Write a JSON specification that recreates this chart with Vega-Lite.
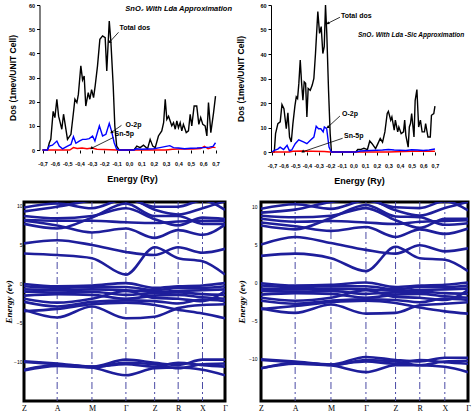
{
"$schema": "https://vega.github.io/schema/vega-lite/v6.json",
"padding": {"left": 2, "top": 2, "right": 0, "bottom": 0},
"background": "white",
"config": {"font": "Liberation Sans", "axis": {"labelColor": "black", "titleColor": "black", "domainColor": "black", "tickColor": "black", "grid": false}},
"datasets": {
"dosL": [
{"s":"T","e":-0.7,"v":0},{"s":"T","e":-0.66,"v":0},{"s":"T","e":-0.645,"v":3},{"s":"T","e":-0.633,"v":4.4},{"s":"T","e":-0.614,"v":16},{"s":"T","e":-0.6,"v":13.4},{"s":"T","e":-0.584,"v":21},{"s":"T","e":-0.57,"v":14},{"s":"T","e":-0.557,"v":11.3},{"s":"T","e":-0.544,"v":8.6},{"s":"T","e":-0.53,"v":14.8},{"s":"T","e":-0.517,"v":10.6},{"s":"T","e":-0.498,"v":4.4},{"s":"T","e":-0.47,"v":6.5},{"s":"T","e":-0.45,"v":15.4},{"s":"T","e":-0.438,"v":21},{"s":"T","e":-0.422,"v":19.6},{"s":"T","e":-0.41,"v":23},{"s":"T","e":-0.39,"v":34.8},{"s":"T","e":-0.376,"v":29},{"s":"T","e":-0.363,"v":30.6},{"s":"T","e":-0.35,"v":18.2},{"s":"T","e":-0.33,"v":23.7},{"s":"T","e":-0.317,"v":21},{"s":"T","e":-0.303,"v":25},{"s":"T","e":-0.287,"v":21.7},{"s":"T","e":-0.274,"v":26.5},{"s":"T","e":-0.255,"v":34.8},{"s":"T","e":-0.236,"v":45.8},{"s":"T","e":-0.214,"v":47.2},{"s":"T","e":-0.193,"v":46.5},{"s":"T","e":-0.18,"v":32.7},{"s":"T","e":-0.16,"v":53.4},{"s":"T","e":-0.147,"v":45},{"s":"T","e":-0.128,"v":26.5},{"s":"T","e":-0.115,"v":10},{"s":"T","e":-0.1,"v":1.6},{"s":"T","e":-0.08,"v":0},{"s":"T","e":0.04,"v":0},{"s":"T","e":0.063,"v":1.6},{"s":"T","e":0.09,"v":1},{"s":"T","e":0.117,"v":2},{"s":"T","e":0.15,"v":0.5},{"s":"T","e":0.171,"v":4.4},{"s":"T","e":0.192,"v":1.6},{"s":"T","e":0.212,"v":1},{"s":"T","e":0.238,"v":5.8},{"s":"T","e":0.265,"v":7.9},{"s":"T","e":0.28,"v":11.3},{"s":"T","e":0.293,"v":21},{"s":"T","e":0.306,"v":12.7},{"s":"T","e":0.32,"v":14},{"s":"T","e":0.333,"v":12},{"s":"T","e":0.346,"v":10},{"s":"T","e":0.36,"v":11.3},{"s":"T","e":0.374,"v":8.6},{"s":"T","e":0.387,"v":12},{"s":"T","e":0.4,"v":9.2},{"s":"T","e":0.414,"v":11.3},{"s":"T","e":0.427,"v":7.9},{"s":"T","e":0.44,"v":10.6},{"s":"T","e":0.463,"v":7.2},{"s":"T","e":0.481,"v":7.9},{"s":"T","e":0.495,"v":14.8},{"s":"T","e":0.508,"v":10},{"s":"T","e":0.527,"v":18.2},{"s":"T","e":0.548,"v":18.2},{"s":"T","e":0.565,"v":10.6},{"s":"T","e":0.58,"v":13.4},{"s":"T","e":0.597,"v":10.6},{"s":"T","e":0.616,"v":10},{"s":"T","e":0.63,"v":5.8},{"s":"T","e":0.643,"v":19.6},{"s":"T","e":0.662,"v":7.2},{"s":"T","e":0.684,"v":15.4},{"s":"T","e":0.7,"v":22.3},
{"s":"O","e":-0.7,"v":0},{"s":"O","e":-0.66,"v":0},{"s":"O","e":-0.646,"v":1.6},{"s":"O","e":-0.62,"v":2},{"s":"O","e":-0.584,"v":3.7},{"s":"O","e":-0.565,"v":1.6},{"s":"O","e":-0.538,"v":0.5},{"s":"O","e":-0.498,"v":1.6},{"s":"O","e":-0.47,"v":2.3},{"s":"O","e":-0.45,"v":5.5},{"s":"O","e":-0.43,"v":2.8},{"s":"O","e":-0.403,"v":3.7},{"s":"O","e":-0.376,"v":4.4},{"s":"O","e":-0.35,"v":4.4},{"s":"O","e":-0.322,"v":4.7},{"s":"O","e":-0.295,"v":5.8},{"s":"O","e":-0.276,"v":3.7},{"s":"O","e":-0.24,"v":10},{"s":"O","e":-0.214,"v":5.8},{"s":"O","e":-0.187,"v":6.5},{"s":"O","e":-0.16,"v":11},{"s":"O","e":-0.142,"v":7.9},{"s":"O","e":-0.12,"v":3},{"s":"O","e":-0.1,"v":0.3},{"s":"O","e":-0.08,"v":0},{"s":"O","e":0.04,"v":0},{"s":"O","e":0.06,"v":0.5},{"s":"O","e":0.1,"v":0.3},{"s":"O","e":0.2,"v":0.5},{"s":"O","e":0.25,"v":1},{"s":"O","e":0.3,"v":1.5},{"s":"O","e":0.33,"v":1.8},{"s":"O","e":0.36,"v":1},{"s":"O","e":0.4,"v":0.8},{"s":"O","e":0.45,"v":0.5},{"s":"O","e":0.5,"v":0.7},{"s":"O","e":0.55,"v":0.8},{"s":"O","e":0.6,"v":1},{"s":"O","e":0.65,"v":1.2},{"s":"O","e":0.68,"v":1.5},{"s":"O","e":0.7,"v":3},
{"s":"S","e":-0.7,"v":0},{"s":"S","e":-0.48,"v":0},{"s":"S","e":-0.45,"v":1},{"s":"S","e":-0.42,"v":0.6},{"s":"S","e":-0.38,"v":0.8},{"s":"S","e":-0.34,"v":0.5},{"s":"S","e":-0.3,"v":0.8},{"s":"S","e":-0.26,"v":0.3},{"s":"S","e":-0.2,"v":0.2},{"s":"S","e":-0.1,"v":0},{"s":"S","e":0.3,"v":0},{"s":"S","e":0.35,"v":0.3},{"s":"S","e":0.45,"v":0.5},{"s":"S","e":0.52,"v":0.4},{"s":"S","e":0.58,"v":0.6},{"s":"S","e":0.61,"v":1.5},{"s":"S","e":0.64,"v":0.5},{"s":"S","e":0.68,"v":1.2},{"s":"S","e":0.7,"v":1}
],
"dosR": [
{"s":"T","e":-0.7,"v":0},{"s":"T","e":-0.68,"v":0},{"s":"T","e":-0.669,"v":7.5},{"s":"T","e":-0.649,"v":11.6},{"s":"T","e":-0.629,"v":12.3},{"s":"T","e":-0.614,"v":19.4},{"s":"T","e":-0.597,"v":17.7},{"s":"T","e":-0.577,"v":9.5},{"s":"T","e":-0.563,"v":16},{"s":"T","e":-0.549,"v":6.1},{"s":"T","e":-0.534,"v":4.1},{"s":"T","e":-0.52,"v":11.6},{"s":"T","e":-0.503,"v":18.7},{"s":"T","e":-0.491,"v":22.5},{"s":"T","e":-0.48,"v":21.8},{"s":"T","e":-0.469,"v":28},{"s":"T","e":-0.457,"v":37.5},{"s":"T","e":-0.446,"v":28.6},{"s":"T","e":-0.434,"v":21.1},{"s":"T","e":-0.423,"v":28.6},{"s":"T","e":-0.411,"v":28},{"s":"T","e":-0.4,"v":14.3},{"s":"T","e":-0.389,"v":25.9},{"s":"T","e":-0.371,"v":25.2},{"s":"T","e":-0.354,"v":27.3},{"s":"T","e":-0.34,"v":30},{"s":"T","e":-0.326,"v":40.2},{"s":"T","e":-0.306,"v":57.3},{"s":"T","e":-0.291,"v":48.4},{"s":"T","e":-0.277,"v":51.2},{"s":"T","e":-0.263,"v":40.2},{"s":"T","e":-0.251,"v":43},{"s":"T","e":-0.24,"v":60},{"s":"T","e":-0.229,"v":48.4},{"s":"T","e":-0.214,"v":25.2},{"s":"T","e":-0.2,"v":7.5},{"s":"T","e":-0.189,"v":0},{"s":"T","e":0.02,"v":0},{"s":"T","e":0.037,"v":1},{"s":"T","e":0.06,"v":1},{"s":"T","e":0.09,"v":1.5},{"s":"T","e":0.12,"v":1},{"s":"T","e":0.14,"v":4.5},{"s":"T","e":0.16,"v":3.4},{"s":"T","e":0.19,"v":1.4},{"s":"T","e":0.21,"v":3.4},{"s":"T","e":0.23,"v":5.5},{"s":"T","e":0.25,"v":4},{"s":"T","e":0.27,"v":8.2},{"s":"T","e":0.29,"v":15.7},{"s":"T","e":0.3,"v":16.6},{"s":"T","e":0.32,"v":13},{"s":"T","e":0.33,"v":14.3},{"s":"T","e":0.35,"v":8.9},{"s":"T","e":0.36,"v":13},{"s":"T","e":0.38,"v":8.2},{"s":"T","e":0.39,"v":10.2},{"s":"T","e":0.41,"v":7.5},{"s":"T","e":0.43,"v":8.2},{"s":"T","e":0.44,"v":13},{"s":"T","e":0.45,"v":6.8},{"s":"T","e":0.47,"v":2},{"s":"T","e":0.48,"v":10.2},{"s":"T","e":0.49,"v":11.6},{"s":"T","e":0.5,"v":15.7},{"s":"T","e":0.52,"v":6.1},{"s":"T","e":0.53,"v":21},{"s":"T","e":0.545,"v":25.5},{"s":"T","e":0.56,"v":10.2},{"s":"T","e":0.575,"v":13},{"s":"T","e":0.59,"v":8.2},{"s":"T","e":0.61,"v":8.2},{"s":"T","e":0.62,"v":11.6},{"s":"T","e":0.64,"v":6.1},{"s":"T","e":0.66,"v":6.1},{"s":"T","e":0.67,"v":15},{"s":"T","e":0.69,"v":15.7},{"s":"T","e":0.7,"v":18.7},
{"s":"O","e":-0.7,"v":0},{"s":"O","e":-0.68,"v":0.7},{"s":"O","e":-0.65,"v":1.2},{"s":"O","e":-0.63,"v":2},{"s":"O","e":-0.6,"v":1},{"s":"O","e":-0.57,"v":2.7},{"s":"O","e":-0.55,"v":0.5},{"s":"O","e":-0.53,"v":0.8},{"s":"O","e":-0.5,"v":3.4},{"s":"O","e":-0.47,"v":5},{"s":"O","e":-0.43,"v":4.1},{"s":"O","e":-0.4,"v":3.4},{"s":"O","e":-0.37,"v":4.8},{"s":"O","e":-0.34,"v":6.1},{"s":"O","e":-0.32,"v":10.5},{"s":"O","e":-0.3,"v":9.5},{"s":"O","e":-0.28,"v":9.5},{"s":"O","e":-0.26,"v":8.2},{"s":"O","e":-0.25,"v":10.2},{"s":"O","e":-0.23,"v":9.5},{"s":"O","e":-0.21,"v":2},{"s":"O","e":-0.19,"v":0},{"s":"O","e":0.02,"v":0},{"s":"O","e":0.06,"v":0.4},{"s":"O","e":0.15,"v":0.6},{"s":"O","e":0.25,"v":0.8},{"s":"O","e":0.3,"v":1},{"s":"O","e":0.35,"v":0.8},{"s":"O","e":0.4,"v":0.7},{"s":"O","e":0.45,"v":0.6},{"s":"O","e":0.5,"v":0.9},{"s":"O","e":0.55,"v":0.8},{"s":"O","e":0.6,"v":0.6},{"s":"O","e":0.65,"v":0.8},{"s":"O","e":0.7,"v":1.2},
{"s":"S","e":-0.7,"v":0},{"s":"S","e":-0.55,"v":0},{"s":"S","e":-0.52,"v":0.3},{"s":"S","e":-0.45,"v":0.4},{"s":"S","e":-0.35,"v":0.3},{"s":"S","e":-0.25,"v":0.2},{"s":"S","e":-0.2,"v":0},{"s":"S","e":0.3,"v":0},{"s":"S","e":0.5,"v":0.3},{"s":"S","e":0.7,"v":0.3}
],
"arrL": [{"x":-0.085,"y":48.7,"x2":-0.158,"y2":44.6},{"x":-0.061,"y":10.2,"x2":-0.142,"y2":7.3},{"x":-0.126,"y":5.2,"x2":-0.304,"y2":0.7}],
"labL": [{"t":"Total dos","x":-0.077,"y":50.4},{"t":"O-2p","x":-0.028,"y":10.2},{"t":"Sn-5p","x":-0.117,"y":6.5}],
"ttlL": [{"t":"SnO₂ With Lda Approximation","x":-0.03,"y":58.5}],
"arrR": [{"x":-0.116,"y":55,"x2":-0.221,"y2":52.5},{"x":-0.116,"y":14.7,"x2":-0.221,"y2":10.1},{"x":-0.093,"y":5.6,"x2":-0.436,"y2":0.1}],
"labR": [{"t":"Total dos","x":-0.107,"y":55.5},{"t":"O-2p","x":-0.098,"y":15.5},{"t":"Sn-5p","x":-0.081,"y":6.5}],
"ttlR": [{"t":"SnO₂ With Lda -Sic Approximation","x":0.039,"y":47.8}],
"sym": [{"k":0.165},{"k":0.338},{"k":0.507},{"k":0.65},{"k":0.767},{"k":0.888}],
"bandL": [
{"b":"L1","k":0,"E":-10.0},{"b":"L1","k":0.165,"E":-10.3},{"b":"L1","k":0.338,"E":-10.7},{"b":"L1","k":0.507,"E":-9.8},{"b":"L1","k":0.65,"E":-10.2},{"b":"L1","k":0.767,"E":-10.5},{"b":"L1","k":0.888,"E":-9.8},{"b":"L1","k":1,"E":-9.8},
{"b":"L2","k":0,"E":-10.1},{"b":"L2","k":0.165,"E":-10.4},{"b":"L2","k":0.338,"E":-10.7},{"b":"L2","k":0.507,"E":-10.4},{"b":"L2","k":0.65,"E":-10.7},{"b":"L2","k":0.767,"E":-10.2},{"b":"L2","k":0.888,"E":-10.5},{"b":"L2","k":1,"E":-10.7},
{"b":"L3","k":0,"E":-11.1},{"b":"L3","k":0.165,"E":-10.5},{"b":"L3","k":0.338,"E":-10.8},{"b":"L3","k":0.507,"E":-11.8},{"b":"L3","k":0.65,"E":-10.9},{"b":"L3","k":0.767,"E":-10.8},{"b":"L3","k":0.888,"E":-11.1},{"b":"L3","k":1,"E":-11.8},
{"b":"L4","k":0,"E":-11.2},{"b":"L4","k":0.165,"E":-10.6},{"b":"L4","k":0.338,"E":-10.8},{"b":"L4","k":0.507,"E":-10.2},{"b":"L4","k":0.65,"E":-10.4},{"b":"L4","k":0.767,"E":-10.9},{"b":"L4","k":0.888,"E":-10.4},{"b":"L4","k":1,"E":-10.3},
{"b":"V1","k":0,"E":-0.1},{"b":"V1","k":0.165,"E":-0.4},{"b":"V1","k":0.338,"E":-0.3},{"b":"V1","k":0.507,"E":0.0},{"b":"V1","k":0.65,"E":-0.6},{"b":"V1","k":0.767,"E":-0.4},{"b":"V1","k":0.888,"E":-0.3},{"b":"V1","k":1,"E":0.0},
{"b":"V2","k":0,"E":-0.4},{"b":"V2","k":0.165,"E":-0.6},{"b":"V2","k":0.338,"E":-0.5},{"b":"V2","k":0.507,"E":-0.5},{"b":"V2","k":0.65,"E":-0.9},{"b":"V2","k":0.767,"E":-0.6},{"b":"V2","k":0.888,"E":-0.6},{"b":"V2","k":1,"E":-0.4},
{"b":"V3","k":0,"E":-0.8},{"b":"V3","k":0.165,"E":-0.9},{"b":"V3","k":0.338,"E":-0.8},{"b":"V3","k":0.507,"E":-0.9},{"b":"V3","k":0.65,"E":-1.1},{"b":"V3","k":0.767,"E":-1.0},{"b":"V3","k":0.888,"E":-0.9},{"b":"V3","k":1,"E":-0.8},
{"b":"V4","k":0,"E":-1.1},{"b":"V4","k":0.165,"E":-1.2},{"b":"V4","k":0.338,"E":-1.1},{"b":"V4","k":0.507,"E":-1.5},{"b":"V4","k":0.65,"E":-1.3},{"b":"V4","k":0.767,"E":-1.2},{"b":"V4","k":0.888,"E":-1.4},{"b":"V4","k":1,"E":-1.5},
{"b":"V5","k":0,"E":-1.6},{"b":"V5","k":0.165,"E":-1.4},{"b":"V5","k":0.338,"E":-1.5},{"b":"V5","k":0.507,"E":-2.0},{"b":"V5","k":0.65,"E":-1.6},{"b":"V5","k":0.767,"E":-1.5},{"b":"V5","k":0.888,"E":-1.8},{"b":"V5","k":1,"E":-2.0},
{"b":"V6","k":0,"E":-2.0},{"b":"V6","k":0.165,"E":-2.5},{"b":"V6","k":0.338,"E":-2.0},{"b":"V6","k":0.507,"E":-1.0},{"b":"V6","k":0.65,"E":-1.9},{"b":"V6","k":0.767,"E":-2.0},{"b":"V6","k":0.888,"E":-2.3},{"b":"V6","k":1,"E":-1.0},
{"b":"V7","k":0,"E":-2.4},{"b":"V7","k":0.165,"E":-3.0},{"b":"V7","k":0.338,"E":-2.4},{"b":"V7","k":0.507,"E":-2.2},{"b":"V7","k":0.65,"E":-2.3},{"b":"V7","k":0.767,"E":-2.6},{"b":"V7","k":0.888,"E":-2.1},{"b":"V7","k":1,"E":-2.3},
{"b":"V8","k":0,"E":-3.4},{"b":"V8","k":0.165,"E":-4.4},{"b":"V8","k":0.338,"E":-3.0},{"b":"V8","k":0.507,"E":-4.5},{"b":"V8","k":0.65,"E":-4.3},{"b":"V8","k":0.767,"E":-3.2},{"b":"V8","k":0.888,"E":-2.8},{"b":"V8","k":1,"E":-2.7},
{"b":"V9","k":0,"E":-3.6},{"b":"V9","k":0.165,"E":-3.3},{"b":"V9","k":0.338,"E":-2.7},{"b":"V9","k":0.507,"E":-2.5},{"b":"V9","k":0.65,"E":-2.8},{"b":"V9","k":0.767,"E":-3.4},{"b":"V9","k":0.888,"E":-3.9},{"b":"V9","k":1,"E":-4.5},
{"b":"C1","k":0,"E":3.8},{"b":"C1","k":0.165,"E":3.6},{"b":"C1","k":0.338,"E":3.2},{"b":"C1","k":0.507,"E":1.1},{"b":"C1","k":0.65,"E":4.6},{"b":"C1","k":0.767,"E":3.2},{"b":"C1","k":0.888,"E":2.8},{"b":"C1","k":1,"E":1.1},
{"b":"C2","k":0,"E":5.1},{"b":"C2","k":0.165,"E":5.5},{"b":"C2","k":0.338,"E":4.9},{"b":"C2","k":0.507,"E":4.0},{"b":"C2","k":0.65,"E":3.6},{"b":"C2","k":0.767,"E":4.6},{"b":"C2","k":0.888,"E":3.9},{"b":"C2","k":1,"E":4.4},
{"b":"C3","k":0,"E":8.0},{"b":"C3","k":0.165,"E":7.4},{"b":"C3","k":0.338,"E":6.5},{"b":"C3","k":0.507,"E":7.0},{"b":"C3","k":0.65,"E":5.8},{"b":"C3","k":0.767,"E":6.8},{"b":"C3","k":0.888,"E":6.2},{"b":"C3","k":1,"E":7.5},
{"b":"C4","k":0,"E":8.1},{"b":"C4","k":0.165,"E":8.0},{"b":"C4","k":0.338,"E":8.0},{"b":"C4","k":0.507,"E":7.8},{"b":"C4","k":0.65,"E":7.7},{"b":"C4","k":0.767,"E":7.9},{"b":"C4","k":0.888,"E":8.0},{"b":"C4","k":1,"E":8.0},
{"b":"C5","k":0,"E":8.6},{"b":"C5","k":0.165,"E":8.3},{"b":"C5","k":0.338,"E":8.6},{"b":"C5","k":0.507,"E":9.6},{"b":"C5","k":0.65,"E":8.2},{"b":"C5","k":0.767,"E":7.4},{"b":"C5","k":0.888,"E":8.4},{"b":"C5","k":1,"E":8.2},
{"b":"C6","k":0,"E":9.2},{"b":"C6","k":0.165,"E":9.8},{"b":"C6","k":0.338,"E":10.6},{"b":"C6","k":0.507,"E":11.0},{"b":"C6","k":0.65,"E":9.4},{"b":"C6","k":0.767,"E":8.8},{"b":"C6","k":0.888,"E":9.6},{"b":"C6","k":1,"E":10.5},
{"b":"C7","k":0,"E":9.7},{"b":"C7","k":0.165,"E":10.2},{"b":"C7","k":0.338,"E":9.6},{"b":"C7","k":0.507,"E":10.8},{"b":"C7","k":0.65,"E":9.8},{"b":"C7","k":0.767,"E":9.8},{"b":"C7","k":0.888,"E":10.6},{"b":"C7","k":1,"E":9.4},
{"b":"C8","k":0,"E":7.6},{"b":"C8","k":0.165,"E":7.0},{"b":"C8","k":0.338,"E":8.4},{"b":"C8","k":0.507,"E":10.2},{"b":"C8","k":0.65,"E":8.6},{"b":"C8","k":0.767,"E":8.6},{"b":"C8","k":0.888,"E":7.6},{"b":"C8","k":1,"E":7.6}
],
"bandR": [
{"b":"L1","k":0,"E":-10.1},{"b":"L1","k":0.165,"E":-10.4},{"b":"L1","k":0.338,"E":-10.8},{"b":"L1","k":0.507,"E":-9.8},{"b":"L1","k":0.65,"E":-10.2},{"b":"L1","k":0.767,"E":-10.4},{"b":"L1","k":0.888,"E":-9.9},{"b":"L1","k":1,"E":-9.9},
{"b":"L2","k":0,"E":-10.2},{"b":"L2","k":0.165,"E":-10.5},{"b":"L2","k":0.338,"E":-10.8},{"b":"L2","k":0.507,"E":-10.4},{"b":"L2","k":0.65,"E":-10.7},{"b":"L2","k":0.767,"E":-10.2},{"b":"L2","k":0.888,"E":-10.5},{"b":"L2","k":1,"E":-10.7},
{"b":"L3","k":0,"E":-11.3},{"b":"L3","k":0.165,"E":-10.6},{"b":"L3","k":0.338,"E":-10.9},{"b":"L3","k":0.507,"E":-11.8},{"b":"L3","k":0.65,"E":-10.9},{"b":"L3","k":0.767,"E":-10.9},{"b":"L3","k":0.888,"E":-11.1},{"b":"L3","k":1,"E":-11.8},
{"b":"L4","k":0,"E":-11.3},{"b":"L4","k":0.165,"E":-10.7},{"b":"L4","k":0.338,"E":-10.9},{"b":"L4","k":0.507,"E":-10.2},{"b":"L4","k":0.65,"E":-10.4},{"b":"L4","k":0.767,"E":-10.9},{"b":"L4","k":0.888,"E":-10.4},{"b":"L4","k":1,"E":-10.3},
{"b":"V1","k":0,"E":-0.1},{"b":"V1","k":0.165,"E":-0.4},{"b":"V1","k":0.338,"E":-0.3},{"b":"V1","k":0.507,"E":0.0},{"b":"V1","k":0.65,"E":-0.6},{"b":"V1","k":0.767,"E":-0.4},{"b":"V1","k":0.888,"E":-0.3},{"b":"V1","k":1,"E":0.0},
{"b":"V2","k":0,"E":-0.4},{"b":"V2","k":0.165,"E":-0.6},{"b":"V2","k":0.338,"E":-0.5},{"b":"V2","k":0.507,"E":-0.5},{"b":"V2","k":0.65,"E":-0.9},{"b":"V2","k":0.767,"E":-0.6},{"b":"V2","k":0.888,"E":-0.6},{"b":"V2","k":1,"E":-0.4},
{"b":"V3","k":0,"E":-0.8},{"b":"V3","k":0.165,"E":-0.9},{"b":"V3","k":0.338,"E":-0.8},{"b":"V3","k":0.507,"E":-0.9},{"b":"V3","k":0.65,"E":-1.1},{"b":"V3","k":0.767,"E":-1.0},{"b":"V3","k":0.888,"E":-0.9},{"b":"V3","k":1,"E":-0.8},
{"b":"V4","k":0,"E":-1.1},{"b":"V4","k":0.165,"E":-1.2},{"b":"V4","k":0.338,"E":-1.1},{"b":"V4","k":0.507,"E":-1.5},{"b":"V4","k":0.65,"E":-1.3},{"b":"V4","k":0.767,"E":-1.2},{"b":"V4","k":0.888,"E":-1.4},{"b":"V4","k":1,"E":-1.5},
{"b":"V5","k":0,"E":-1.6},{"b":"V5","k":0.165,"E":-1.4},{"b":"V5","k":0.338,"E":-1.5},{"b":"V5","k":0.507,"E":-2.0},{"b":"V5","k":0.65,"E":-1.6},{"b":"V5","k":0.767,"E":-1.5},{"b":"V5","k":0.888,"E":-1.8},{"b":"V5","k":1,"E":-2.0},
{"b":"V6","k":0,"E":-2.0},{"b":"V6","k":0.165,"E":-2.4},{"b":"V6","k":0.338,"E":-2.0},{"b":"V6","k":0.507,"E":-1.0},{"b":"V6","k":0.65,"E":-1.9},{"b":"V6","k":0.767,"E":-2.0},{"b":"V6","k":0.888,"E":-2.3},{"b":"V6","k":1,"E":-1.0},
{"b":"V7","k":0,"E":-2.4},{"b":"V7","k":0.165,"E":-2.8},{"b":"V7","k":0.338,"E":-2.4},{"b":"V7","k":0.507,"E":-2.2},{"b":"V7","k":0.65,"E":-2.3},{"b":"V7","k":0.767,"E":-2.6},{"b":"V7","k":0.888,"E":-2.1},{"b":"V7","k":1,"E":-2.3},
{"b":"V8","k":0,"E":-3.4},{"b":"V8","k":0.165,"E":-4.0},{"b":"V8","k":0.338,"E":-2.9},{"b":"V8","k":0.507,"E":-4.1},{"b":"V8","k":0.65,"E":-4.0},{"b":"V8","k":0.767,"E":-3.0},{"b":"V8","k":0.888,"E":-2.8},{"b":"V8","k":1,"E":-2.6},
{"b":"V9","k":0,"E":-3.5},{"b":"V9","k":0.165,"E":-3.1},{"b":"V9","k":0.338,"E":-2.6},{"b":"V9","k":0.507,"E":-2.4},{"b":"V9","k":0.65,"E":-2.7},{"b":"V9","k":0.767,"E":-3.3},{"b":"V9","k":0.888,"E":-3.8},{"b":"V9","k":1,"E":-4.1},
{"b":"C1","k":0,"E":3.5},{"b":"C1","k":0.165,"E":3.8},{"b":"C1","k":0.338,"E":3.2},{"b":"C1","k":0.507,"E":1.5},{"b":"C1","k":0.65,"E":4.7},{"b":"C1","k":0.767,"E":3.2},{"b":"C1","k":0.888,"E":3.0},{"b":"C1","k":1,"E":1.5},
{"b":"C2","k":0,"E":5.0},{"b":"C2","k":0.165,"E":6.0},{"b":"C2","k":0.338,"E":5.2},{"b":"C2","k":0.507,"E":4.3},{"b":"C2","k":0.65,"E":3.8},{"b":"C2","k":0.767,"E":4.9},{"b":"C2","k":0.888,"E":4.1},{"b":"C2","k":1,"E":4.5},
{"b":"C3","k":0,"E":7.9},{"b":"C3","k":0.165,"E":7.4},{"b":"C3","k":0.338,"E":6.8},{"b":"C3","k":0.507,"E":7.3},{"b":"C3","k":0.65,"E":6.0},{"b":"C3","k":0.767,"E":7.0},{"b":"C3","k":0.888,"E":6.4},{"b":"C3","k":1,"E":7.1},
{"b":"C4","k":0,"E":8.4},{"b":"C4","k":0.165,"E":8.0},{"b":"C4","k":0.338,"E":8.1},{"b":"C4","k":0.507,"E":7.9},{"b":"C4","k":0.65,"E":7.7},{"b":"C4","k":0.767,"E":8.0},{"b":"C4","k":0.888,"E":8.1},{"b":"C4","k":1,"E":8.2},
{"b":"C5","k":0,"E":8.8},{"b":"C5","k":0.165,"E":8.6},{"b":"C5","k":0.338,"E":8.8},{"b":"C5","k":0.507,"E":9.8},{"b":"C5","k":0.65,"E":8.2},{"b":"C5","k":0.767,"E":7.2},{"b":"C5","k":0.888,"E":8.4},{"b":"C5","k":1,"E":8.4},
{"b":"C6","k":0,"E":9.2},{"b":"C6","k":0.165,"E":9.6},{"b":"C6","k":0.338,"E":10.6},{"b":"C6","k":0.507,"E":11.0},{"b":"C6","k":0.65,"E":9.5},{"b":"C6","k":0.767,"E":8.8},{"b":"C6","k":0.888,"E":9.8},{"b":"C6","k":1,"E":10.6},
{"b":"C7","k":0,"E":9.7},{"b":"C7","k":0.165,"E":10.3},{"b":"C7","k":0.338,"E":9.7},{"b":"C7","k":0.507,"E":10.8},{"b":"C7","k":0.65,"E":9.9},{"b":"C7","k":0.767,"E":9.8},{"b":"C7","k":0.888,"E":10.7},{"b":"C7","k":1,"E":9.5},
{"b":"C8","k":0,"E":7.5},{"b":"C8","k":0.165,"E":7.0},{"b":"C8","k":0.338,"E":8.5},{"b":"C8","k":0.507,"E":10.2},{"b":"C8","k":0.65,"E":8.7},{"b":"C8","k":0.767,"E":8.6},{"b":"C8","k":0.888,"E":7.6},{"b":"C8","k":1,"E":7.8}
]
},
"columns": 2,
"align": "none",
"spacing": {"row": 14, "column": 3},
"concat": [
{
"width": 193, "height": 145,
"view": {"stroke": null},
"encoding": {
"x": {"type": "quantitative", "scale": {"domain": [-0.85, 0.712], "nice": false, "zero": false},
 "axis": {"title": "Energy (Ry)", "titleX": 108, "values": [-0.7,-0.6,-0.5,-0.4,-0.3,-0.2,-0.1,0,0.1,0.2,0.3,0.4,0.5,0.6,0.7], "labelExpr": "replace(replace(format(datum.value,'.1f'),'.',','),'−','-')", "labelFontSize": 5.5, "labelFontWeight": "bold", "labelPadding": 8, "tickSize": 3, "domain": false, "labelOverlap": false, "labelFlush": false, "titleFontSize": 9, "titleFontWeight": "bold", "titlePadding": 8}},
"y": {"type": "quantitative", "scale": {"domain": [0, 60], "nice": false},
 "axis": {"title": "Dos (1mev/UNIT Cell)", "offset": -15.5, "values": [0,10,20,30,40,50,60], "labelFontSize": 5.5, "labelFontWeight": "bold", "labelPadding": 2, "tickSize": 3, "titleFontSize": 8.5, "titleFontWeight": "bold", "titlePadding": 11}}
},
"layer": [
{"mark": {"type": "rule", "color": "black", "strokeWidth": 1}, "encoding": {"x": {"datum": -0.724}, "x2": {"datum": 0.712}, "y": {"datum": 0}}},
{"data": {"name": "dosL"}, "transform": [{"filter": "datum.s == 'T'"}], "mark": {"type": "line", "color": "black", "strokeWidth": 1.4}, "encoding": {"x": {"field": "e"}, "y": {"field": "v"}}},
{"data": {"name": "dosL"}, "transform": [{"filter": "datum.s == 'S'"}], "mark": {"type": "line", "color": "red", "strokeWidth": 1.4}, "encoding": {"x": {"field": "e"}, "y": {"field": "v"}}},
{"data": {"name": "dosL"}, "transform": [{"filter": "datum.s == 'O'"}], "mark": {"type": "line", "color": "blue", "strokeWidth": 1.4}, "encoding": {"x": {"field": "e"}, "y": {"field": "v"}}},
{"data": {"name": "arrL"}, "mark": {"type": "rule", "color": "black", "strokeWidth": 0.8}, "encoding": {"x": {"field": "x"}, "y": {"field": "y"}, "x2": {"field": "x2"}, "y2": {"field": "y2"}}},
{"data": {"name": "arrL"}, "mark": {"type": "point", "shape": "triangle-up", "filled": true, "color": "black", "size": 12, "angle": 235, "opacity": 1}, "encoding": {"x": {"field": "x2"}, "y": {"field": "y2"}}},
{"data": {"name": "labL"}, "mark": {"type": "text", "align": "left", "baseline": "middle", "fontSize": 7, "fontWeight": "bold", "color": "black"}, "encoding": {"x": {"field": "x"}, "y": {"field": "y"}, "text": {"field": "t"}}},
{"data": {"name": "ttlL"}, "mark": {"type": "text", "align": "left", "baseline": "middle", "fontSize": 7.5, "fontWeight": "bold", "fontStyle": "italic", "color": "black"}, "encoding": {"x": {"field": "x"}, "y": {"field": "y"}, "text": {"field": "t"}}}
]
},
{
"width": 180, "height": 147,
"view": {"stroke": null},
"encoding": {
"x": {"type": "quantitative", "scale": {"domain": [-0.837, 0.709], "nice": false, "zero": false},
 "axis": {"title": "Energy (Ry)", "titleX": 103, "values": [-0.7,-0.6,-0.5,-0.4,-0.3,-0.2,-0.1,0,0.1,0.2,0.3,0.4,0.5,0.6,0.7], "labelExpr": "replace(replace(format(datum.value,'.1f'),'.',','),'−','-')", "labelFontSize": 5.5, "labelFontWeight": "bold", "labelPadding": 8, "tickSize": 3, "domain": false, "labelOverlap": false, "labelFlush": false, "titleFontSize": 9, "titleFontWeight": "bold", "titlePadding": 8}},
"y": {"type": "quantitative", "scale": {"domain": [0, 60], "nice": false},
 "axis": {"title": "Dos (1mev/UNIT Cell)", "offset": -15, "values": [0,10,20,30,40,50,60], "labelFontSize": 5.5, "labelFontWeight": "bold", "labelPadding": 2, "tickSize": 3, "titleFontSize": 8.5, "titleFontWeight": "bold", "titlePadding": 14}}
},
"layer": [
{"mark": {"type": "rule", "color": "black", "strokeWidth": 1}, "encoding": {"x": {"datum": -0.709}, "x2": {"datum": 0.709}, "y": {"datum": 0}}},
{"data": {"name": "dosR"}, "transform": [{"filter": "datum.s == 'T'"}], "mark": {"type": "line", "color": "black", "strokeWidth": 1.4}, "encoding": {"x": {"field": "e"}, "y": {"field": "v"}}},
{"data": {"name": "dosR"}, "transform": [{"filter": "datum.s == 'S'"}], "mark": {"type": "line", "color": "red", "strokeWidth": 1.4}, "encoding": {"x": {"field": "e"}, "y": {"field": "v"}}},
{"data": {"name": "dosR"}, "transform": [{"filter": "datum.s == 'O'"}], "mark": {"type": "line", "color": "blue", "strokeWidth": 1.4}, "encoding": {"x": {"field": "e"}, "y": {"field": "v"}}},
{"data": {"name": "arrR"}, "mark": {"type": "rule", "color": "black", "strokeWidth": 0.8}, "encoding": {"x": {"field": "x"}, "y": {"field": "y"}, "x2": {"field": "x2"}, "y2": {"field": "y2"}}},
{"data": {"name": "arrR"}, "mark": {"type": "point", "shape": "triangle-up", "filled": true, "color": "black", "size": 12, "angle": 240, "opacity": 1}, "encoding": {"x": {"field": "x2"}, "y": {"field": "y2"}}},
{"data": {"name": "labR"}, "mark": {"type": "text", "align": "left", "baseline": "middle", "fontSize": 7, "fontWeight": "bold", "color": "black"}, "encoding": {"x": {"field": "x"}, "y": {"field": "y"}, "text": {"field": "t"}}},
{"data": {"name": "ttlR"}, "mark": {"type": "text", "align": "left", "baseline": "middle", "fontSize": 6.5, "fontWeight": "bold", "fontStyle": "italic", "color": "black"}, "encoding": {"x": {"field": "x"}, "y": {"field": "y"}, "text": {"field": "t"}}}
]
},
{
"width": 201, "height": 199,
"view": {"stroke": "black", "strokeWidth": 3},
"encoding": {
"x": {"type": "quantitative", "scale": {"domain": [0, 1], "nice": false},
 "axis": {"title": null, "values": [0,0.165,0.338,0.507,0.65,0.767,0.888,1], "labelExpr": "datum.value < 0.05 ? 'Z' : datum.value < 0.2 ? 'A' : datum.value < 0.4 ? 'M' : datum.value < 0.55 ? 'Γ' : datum.value < 0.7 ? 'Z' : datum.value < 0.8 ? 'R' : datum.value < 0.95 ? 'X' : 'Γ'", "labelFont": "Liberation Serif", "labelFontSize": 8, "labelPadding": 3, "tickSize": 0, "domain": false, "labelFlush": false}},
"y": {"type": "quantitative", "scale": {"domain": [-15.1, 10.4], "nice": false, "zero": false},
 "axis": {"title": "Energy (ev)", "titleFont": "Liberation Serif", "titleFontStyle": "italic", "titleFontWeight": "bold", "titleFontSize": 9, "titlePadding": 0.5, "values": [-10,-5,0,5,10], "labelFontSize": 5, "labelPadding": 2, "tickSize": 0, "domain": false}}
},
"layer": [
{"data": {"name": "sym"}, "mark": {"type": "rule", "color": "#4b4ba5", "strokeWidth": 1, "strokeDash": [7,3,2,3]}, "encoding": {"x": {"field": "k"}}},
{"data": {"name": "bandL"}, "mark": {"type": "line", "interpolate": "monotone", "color": "#1e1e9b", "strokeWidth": 2.6, "clip": true}, "encoding": {"x": {"field": "k"}, "y": {"field": "E"}, "detail": {"field": "b", "type": "nominal"}}}
]
},
{
"width": 207, "height": 199,
"view": {"stroke": "black", "strokeWidth": 3},
"encoding": {
"x": {"type": "quantitative", "scale": {"domain": [0, 1], "nice": false},
 "axis": {"title": null, "values": [0,0.165,0.338,0.507,0.65,0.767,0.888,1], "labelExpr": "datum.value < 0.05 ? 'Z' : datum.value < 0.2 ? 'A' : datum.value < 0.4 ? 'M' : datum.value < 0.55 ? 'Γ' : datum.value < 0.7 ? 'Z' : datum.value < 0.8 ? 'R' : datum.value < 0.95 ? 'X' : 'Γ'", "labelFont": "Liberation Serif", "labelFontSize": 8, "labelPadding": 3, "tickSize": 0, "domain": false, "labelFlush": false}},
"y": {"type": "quantitative", "scale": {"domain": [-15.6, 10.6], "nice": false, "zero": false},
 "axis": {"title": "Energy (ev)", "titleFont": "Liberation Serif", "titleFontStyle": "italic", "titleFontWeight": "bold", "titleFontSize": 9, "titlePadding": 2, "values": [-10,-5,0,5,10], "labelFontSize": 5, "labelPadding": 4, "tickSize": 0, "domain": false}}
},
"layer": [
{"data": {"name": "sym"}, "mark": {"type": "rule", "color": "#4b4ba5", "strokeWidth": 1, "strokeDash": [7,3,2,3]}, "encoding": {"x": {"field": "k"}}},
{"data": {"name": "bandR"}, "mark": {"type": "line", "interpolate": "monotone", "color": "#1e1e9b", "strokeWidth": 2.6, "clip": true}, "encoding": {"x": {"field": "k"}, "y": {"field": "E"}, "detail": {"field": "b", "type": "nominal"}}}
]
}
]
}
